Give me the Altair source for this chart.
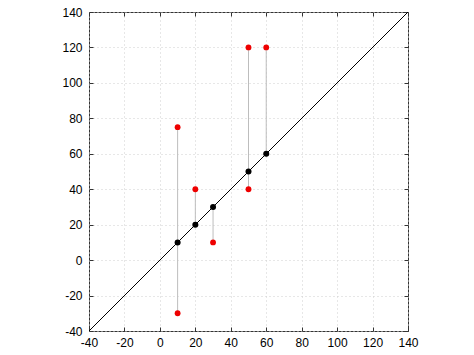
import altair as alt
import pandas as pd

# data
black_x = [10, 20, 30, 50, 60]
black_y = [10, 20, 30, 50, 60]
red_x = [10, 10, 20, 30, 50, 50, 60]
red_y = [75, -30, 40, 10, 120, 40, 120]
rule_x = [10, 20, 30, 50, 60]
rule_lo = [-30, 20, 10, 40, 60]
rule_hi = [75, 40, 30, 120, 120]
diag_x = [-40, 140]
diag_y = [-40, 140]
ticks = [-40, -20, 0, 20, 40, 60, 80, 100, 120, 140]

black = pd.DataFrame({"x": black_x, "y": black_y})
red = pd.DataFrame({"x": red_x, "y": red_y})
rules = pd.DataFrame({"x": rule_x, "lo": rule_lo, "hi": rule_hi})
diag = pd.DataFrame({"x": diag_x, "y": diag_y})

dom = [-40, 140]
xs = alt.Scale(domain=dom, nice=False, zero=False)
ys = alt.Scale(domain=dom, nice=False, zero=False)

lab_font = "Liberation Sans"

main_x = alt.Axis(values=ticks, ticks=False, domain=False, grid=True, gridColor="#cfcfcf",
                  gridDash=[1, 3], gridWidth=1, labelFontSize=12, labelFont=lab_font,
                  labelColor="black", labelPadding=6, title=None, labelFlush=False,
                  labelExpr="'' + datum.value")
main_y = alt.Axis(values=ticks, ticks=False, domain=False, grid=True, gridColor="#cfcfcf",
                  gridDash=[1, 3], gridWidth=1, labelFontSize=12, labelFont=lab_font,
                  labelColor="black", labelPadding=7, title=None, labelFlush=False,
                  labelExpr="'' + datum.value")


def tick_axis(orient):
    return alt.Axis(orient=orient, values=ticks, labels=False, domain=False, grid=False,
                    ticks=True, tickSize=4, tickColor="#333333", tickWidth=1,
                    offset=-4, title=None)


line = alt.Chart(diag).mark_line(color="black", strokeWidth=1).encode(
    x=alt.X("x:Q", scale=xs, axis=main_x),
    y=alt.Y("y:Q", scale=ys, axis=main_y),
)

vr = alt.Chart(rules).mark_rule(color="#bdbdbd", strokeWidth=1).encode(
    x=alt.X("x:Q", scale=xs, axis=tick_axis("bottom")),
    y=alt.Y("lo:Q", scale=ys, axis=tick_axis("left")),
    y2="hi:Q",
)

rp = alt.Chart(red).mark_circle(color="#ee0000", size=34, opacity=1).encode(
    x=alt.X("x:Q", scale=xs, axis=tick_axis("top")),
    y=alt.Y("y:Q", scale=ys, axis=tick_axis("right")),
)

bp = alt.Chart(black).mark_circle(color="black", size=36, opacity=1).encode(
    x=alt.X("x:Q", scale=xs, axis=None),
    y=alt.Y("y:Q", scale=ys, axis=None),
)

chart = alt.layer(line, vr, rp, bp).resolve_scale(x="shared", y="shared").resolve_axis(
    x="independent", y="independent"
).properties(
    width=319, height=319,
    autosize=alt.AutoSizeParams(type="none"),
    padding={"left": 89, "top": 12, "right": 66, "bottom": 24},
    background="white",
).configure_view(stroke="#333333", strokeWidth=1)

chart.save("out.html", embed_options={"renderer": "svg", "actions": False})
